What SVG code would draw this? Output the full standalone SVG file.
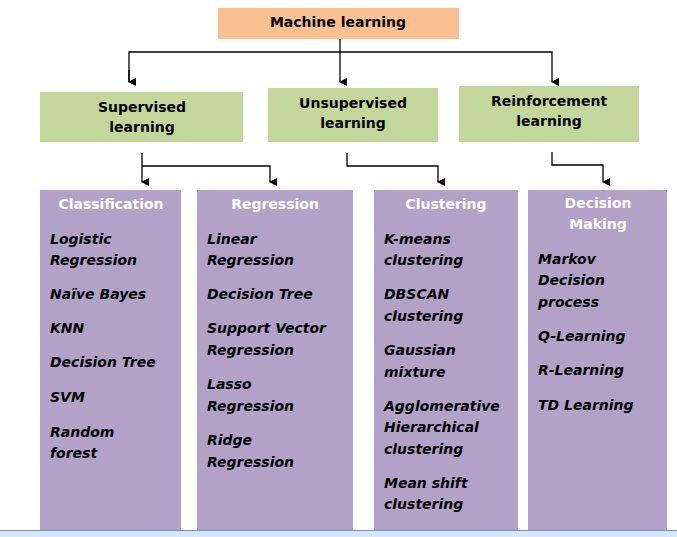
<svg xmlns="http://www.w3.org/2000/svg" width="677" height="537" viewBox="0 0 677 537">
<defs>
<marker id="ar" markerWidth="8" markerHeight="8" refX="4" refY="7" orient="auto" markerUnits="userSpaceOnUse" viewBox="0 0 8 8"><path d="M0,0 L8,0 L4,8 Z" fill="#000"/></marker>
<style>
text{font-family:"DejaVu Sans",Verdana,sans-serif;font-weight:bold;font-size:14px}
.h{fill:#000;text-anchor:middle}
.w{fill:#fff;text-anchor:middle}
.i{fill:#000;font-style:italic}
.p{fill:#b2a2c8}
.g{fill:#c4d79b}
.c{stroke:#000;stroke-width:1.3;fill:none}
</style>
</defs>
<rect width="677" height="537" fill="#fff"/>
<rect x="0" y="530" width="677" height="7" fill="#d7e6f8"/>
<line x1="0" y1="530.5" x2="677" y2="530.5" stroke="#6b93c9" stroke-width="1"/>
<g id="connectors">
<path class="c" d="M340,39 V82" marker-end="url(#ar)"/>
<path class="c" d="M129,82 V52 H552 V82" marker-end="url(#ar)"/>
<path class="c" d="M129,70 V82" marker-end="url(#ar)"/>
<path class="c" d="M142,153 V182" marker-end="url(#ar)"/>
<path class="c" d="M142,166 H270 V182" marker-end="url(#ar)"/>
<path class="c" d="M347,153 V166 H438 V182" marker-end="url(#ar)"/>
<path class="c" d="M552,152 V165 H603 V182" marker-end="url(#ar)"/>
</g>
<g id="ml"><rect x="218" y="8" width="241" height="31" fill="#fac090"/><text class="h" x="338" y="27">Machine learning</text></g>
<g id="sup"><rect class="g" x="40" y="92" width="203" height="50"/><text class="h" x="142" y="112">Supervised</text><text class="h" x="142" y="132">learning</text></g>
<g id="unsup"><rect class="g" x="268" y="88" width="170" height="54"/><text class="h" x="353" y="108">Unsupervised</text><text class="h" x="353" y="128">learning</text></g>
<g id="rein"><rect class="g" x="459" y="86" width="180" height="56"/><text class="h" x="549" y="106">Reinforcement</text><text class="h" x="549" y="126">learning</text></g>
<g id="cls"><rect class="p" x="40" y="190" width="141" height="340"/><text class="w" x="111" y="209">Classification</text>
<text class="i" x="50" y="244">Logistic</text><text class="i" x="50" y="265">Regression</text>
<text class="i" x="50" y="299">Naïve Bayes</text>
<text class="i" x="50" y="333">KNN</text>
<text class="i" x="50" y="367">Decision Tree</text>
<text class="i" x="50" y="402">SVM</text>
<text class="i" x="50" y="437">Random</text><text class="i" x="50" y="458">forest</text></g>
<g id="reg"><rect class="p" x="197" y="190" width="156" height="340"/><text class="w" x="275" y="209">Regression</text>
<text class="i" x="207" y="244">Linear</text><text class="i" x="207" y="265">Regression</text>
<text class="i" x="207" y="299">Decision Tree</text>
<text class="i" x="207" y="333">Support Vector</text><text class="i" x="207" y="355">Regression</text>
<text class="i" x="207" y="389">Lasso</text><text class="i" x="207" y="411">Regression</text>
<text class="i" x="207" y="445">Ridge</text><text class="i" x="207" y="467">Regression</text></g>
<g id="clu"><rect class="p" x="374" y="190" width="144" height="340"/><text class="w" x="446" y="209">Clustering</text>
<text class="i" x="384" y="244">K-means</text><text class="i" x="384" y="265">clustering</text>
<text class="i" x="384" y="299">DBSCAN</text><text class="i" x="384" y="321">clustering</text>
<text class="i" x="384" y="355">Gaussian</text><text class="i" x="384" y="377">mixture</text>
<text class="i" x="384" y="411">Agglomerative</text><text class="i" x="384" y="432">Hierarchical</text><text class="i" x="384" y="454">clustering</text>
<text class="i" x="384" y="488">Mean shift</text><text class="i" x="384" y="509">clustering</text></g>
<g id="dm"><rect class="p" x="528" y="190" width="139" height="340"/><text class="w" x="598" y="208">Decision</text><text class="w" x="598" y="229">Making</text>
<text class="i" x="538" y="264">Markov</text><text class="i" x="538" y="285">Decision</text><text class="i" x="538" y="307">process</text>
<text class="i" x="538" y="341">Q-Learning</text>
<text class="i" x="538" y="375">R-Learning</text>
<text class="i" x="538" y="410">TD Learning</text></g>
</svg>
